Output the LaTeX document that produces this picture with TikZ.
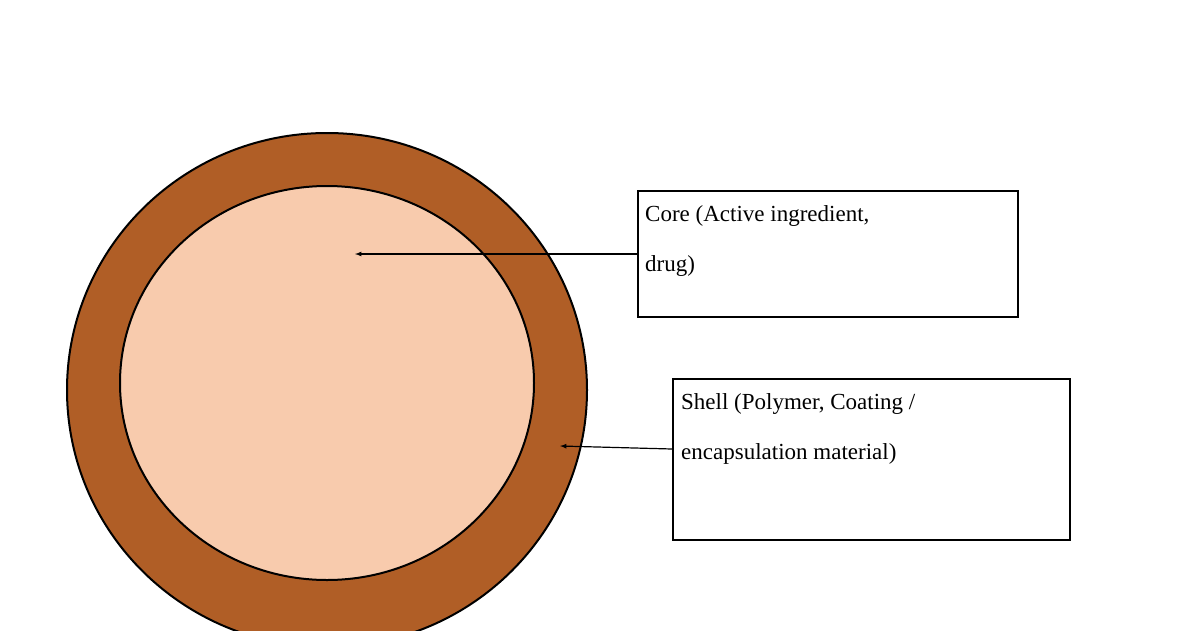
\documentclass[tikz,border=0pt]{standalone}
\usepackage{fontspec}
\setmainfont{Liberation Serif}
\begin{document}
\begin{tikzpicture}[x=1pt,y=-1pt,
  lbl/.style={draw=black,line width=2pt,anchor=north west,align=left,inner sep=0pt,font=\fontsize{23}{50}\selectfont},
  arr/.style={-latex,line width=1.2pt}]
\useasboundingbox (0,0) rectangle (1200,630);
\clip (0,0) rectangle (1200,630);
\fill[white] (0,0) rectangle (1200,630);
\draw[fill={rgb,255:red,176;green,94;blue,38},line width=2pt] (327,390) ellipse [x radius=260,y radius=257];
\draw[fill={rgb,255:red,248;green,203;blue,173},line width=2pt] (327,383) ellipse [x radius=207,y radius=197];
\node[draw=black,line width=2pt,minimum width=380pt,minimum height=126pt,anchor=north west] (b1) at (637,190) {};
\node[anchor=north west,align=left,font=\fontsize{23}{50}\selectfont,inner sep=0pt] (t1) at (645,205) {Core (Active ingredient,\\drug)};
\node[draw=black,line width=2pt,minimum width=397pt,minimum height=161pt,anchor=north west] (b2) at (672,378) {};
\node[anchor=north west,align=left,font=\fontsize{23}{50}\selectfont,inner sep=0pt] (t2) at (681,393) {Shell (Polymer, Coating /\\encapsulation material)};
\coordinate (c1) at (355,254);
\coordinate (c2) at (560,446);
\draw[arr] (b1.west |- c1) -- (c1);
\draw[arr] (672,449) -- (c2);
\end{tikzpicture}
\end{document}
